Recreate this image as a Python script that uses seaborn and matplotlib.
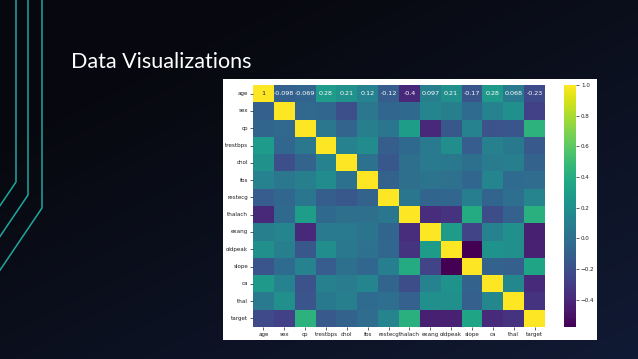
import numpy as np
import pandas as pd
import seaborn as sns
import matplotlib.pyplot as plt
from matplotlib.patches import Rectangle

features = ["age", "sex", "cp", "trestbps", "chol", "fbs", "restecg",
            "thalach", "exang", "oldpeak", "slope", "ca", "thal", "target"]

corr_rows = [
    [1.000, -0.098, -0.069, 0.279, 0.214, 0.121, -0.116, -0.399, 0.097, 0.210, -0.169, 0.276, 0.068, -0.225],
    [-0.098, 1.000, -0.049, -0.057, -0.198, 0.045, -0.058, -0.044, 0.142, 0.096, -0.031, 0.118, 0.210, -0.281],
    [-0.069, -0.049, 1.000, 0.048, -0.077, 0.094, 0.044, 0.296, -0.394, -0.149, 0.120, -0.181, -0.162, 0.434],
    [0.279, -0.057, 0.048, 1.000, 0.123, 0.178, -0.114, -0.047, 0.068, 0.193, -0.121, 0.101, 0.062, -0.145],
    [0.214, -0.198, -0.077, 0.123, 1.000, 0.013, -0.151, -0.010, 0.067, 0.054, -0.004, 0.071, 0.099, -0.085],
    [0.121, 0.045, 0.094, 0.178, 0.013, 1.000, -0.084, -0.009, 0.026, 0.006, -0.060, 0.138, -0.032, -0.028],
    [-0.116, -0.058, 0.044, -0.114, -0.151, -0.084, 1.000, 0.044, -0.071, -0.059, 0.093, -0.072, -0.012, 0.137],
    [-0.399, -0.044, 0.296, -0.047, -0.010, -0.009, 0.044, 1.000, -0.379, -0.344, 0.387, -0.213, -0.096, 0.422],
    [0.097, 0.142, -0.394, 0.068, 0.067, 0.026, -0.071, -0.379, 1.000, 0.288, -0.258, 0.116, 0.207, -0.437],
    [0.210, 0.096, -0.149, 0.193, 0.054, 0.006, -0.059, -0.344, 0.288, 1.000, -0.578, 0.223, 0.210, -0.431],
    [-0.169, -0.031, 0.120, -0.121, -0.004, -0.060, 0.093, 0.387, -0.258, -0.578, 1.000, -0.080, -0.105, 0.346],
    [0.276, 0.118, -0.181, 0.101, 0.071, 0.138, -0.072, -0.213, 0.116, 0.223, -0.080, 1.000, 0.152, -0.392],
    [0.068, 0.210, -0.162, 0.062, 0.099, -0.032, -0.012, -0.096, 0.207, 0.210, -0.105, 0.152, 1.000, -0.344],
    [-0.225, -0.281, 0.434, -0.145, -0.085, -0.028, 0.137, 0.422, -0.437, -0.431, 0.346, -0.392, -0.344, 1.000],
]

corr = pd.DataFrame(corr_rows, index=features, columns=features)

# only the first row got annotated in the original notebook output
annot = np.full(corr.shape, "", dtype=object)
annot[0, :] = [format(v, ".2g") for v in corr.iloc[0]]

W, H = 638, 359
fig = plt.figure(figsize=(W / 100, H / 100), dpi=100)

# slide background
bg = fig.add_axes([0, 0, 1, 1], zorder=-10)
yy, xx = np.mgrid[0:1:200j, 0:1:300j]
t = np.clip(0.55 * xx + 0.6 * yy - 0.25, 0, 1)
c0 = np.array([0.03, 0.035, 0.06])
c1 = np.array([0.07, 0.11, 0.22])
grad = c0 + (c1 - c0) * t[..., None]
bg.imshow(grad, extent=[0, W, H, 0], aspect="auto")
bg.set_xlim(0, W)
bg.set_ylim(H, 0)
bg.axis("off")

# decorative teal lines on the left
for x0, ybend in [(16, 182), (28, 195), (42, 208)]:
    yend = ybend + x0 * 1.48
    bg.plot([x0, x0, 0], [0, ybend, yend], color="#22a59c", lw=1.1)

bg.text(71, 62, "Data Visualizations", color="white", fontsize=15.5,
        family="Lato", va="center", ha="left")

# white card behind the chart
fig.patches.append(Rectangle((223 / W, (H - 340) / H), 374 / W, 261 / H,
                             transform=fig.transFigure, facecolor="white",
                             edgecolor="none", zorder=-5))

ax = fig.add_axes([253 / W, (H - 327) / H, 292 / W, 242 / H])
cax = fig.add_axes([564 / W, (H - 327) / H, 12 / W, 242 / H])

sns.heatmap(corr, annot=annot, fmt="", cmap="viridis", ax=ax, cbar_ax=cax,
            annot_kws={"fontsize": 4.6})

ax.tick_params(labelsize=4.1, length=2, width=0.5, pad=1.5, colors="#222222")
ax.set_yticklabels(features, rotation=0)
ax.set_xticklabels(features, rotation=0)
cax.tick_params(labelsize=4.1, length=2, width=0.5, pad=1.5, colors="#222222")
cax.set_yticks([-0.4, -0.2, 0.0, 0.2, 0.4, 0.6, 0.8, 1.0])
for s in cax.spines.values():
    s.set_visible(False)

fig.savefig("out.png", dpi=100)
